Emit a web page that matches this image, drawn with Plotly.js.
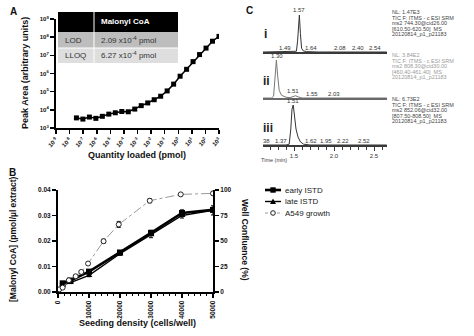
<!DOCTYPE html>
<html><head><meta charset="utf-8">
<script src="https://cdn.plot.ly/plotly-3.0.1.min.js"></script>
<style>html,body{margin:0;padding:0;background:#fff}#g{width:474px;height:336px}</style>
</head><body><div id="g"></div>
<script>
// ---- Panel A: calibration curve ----
const aQuantity = [3.19e-8, 9.56e-8, 2.87e-7, 8.6e-7, 2.58e-6, 7.74e-6, 2.32e-5, 6.97e-5, 2.09e-4, 6.27e-4, 1.88e-3, 5.65e-3, 0.0169, 0.0508, 0.152, 0.457, 1.37, 4.12, 12.3, 37.0, 111, 333, 1000];
const aPeakArea = [3.6e3, 3.1e3, 4.0e3, 3.4e3, 4.4e3, 5.8e3, 6.9e3, 8.1e3, 7.8e3, 1.1e4, 1.7e4, 2.4e4, 3.6e4, 5.6e4, 1.1e5, 2.6e5, 7.1e5, 1.7e6, 4.5e6, 1.1e7, 2.5e7, 6.0e7, 1.1e8];
const aXExp = [-9,-8,-7,-6,-5,-4,-3,-2,-1,0,1,2,3];
const aYExp = [3,4,5,6,7,8,9];
const tableHeader = "Malonyl CoA";
const tableRows = [["LOD", "2.09 x10<sup>-4</sup> pmol"], ["LLOQ", "6.27 x10<sup>-4</sup> pmol"]];

// ---- Panel B: seeding density ----
const bDensityIstd = [1500, 4000, 10000, 20000, 30000, 40000, 50000];
const earlyIstd = [0.0034, 0.0045, 0.0080, 0.0155, 0.0232, 0.0310, 0.0322];
const earlyErr  = [0.0004, 0.0004, 0.0005, 0.0005, 0.0010, 0.0012, 0.0008];
const lateIstd  = [0.0027, 0.0037, 0.0065, 0.0150, 0.0225, 0.0300, 0.0320];
const lateErr   = [0.0003, 0.0004, 0.0005, 0.0006, 0.0012, 0.0010, 0.0018];
const bDensityGrowth = [400, 1500, 3500, 5700, 7500, 9700, 14700, 19600, 29600, 39600, 50000];
const growth    = [2.6, 4.3, 11.5, 15.4, 19.7, 27.9, 49.8, 66.2, 89.5, 95.7, 96.7];
const growthErr = [0, 0, 0, 0, 0, 0, 2.0, 3.0, 2.0, 0, 1.5];
const bXTicks = [0, 10000, 20000, 30000, 40000, 50000];
const bSeriesNames = ["early ISTD", "late ISTD", "A549 growth"];

// ---- Panel C: chromatograms (relative abundance) ----
const tI   = [1.11, 1.40, 1.50, 1.53, 1.545, 1.557, 1.567, 1.58, 1.595, 1.615, 1.66, 1.80, 2.08, 2.40, 2.66];
const absI = [0, 0, 0.005, 0.02, 0.3, 0.8, 1.0, 0.5, 0.1, 0.03, 0.01, 0, 0, 0, 0];
const tII   = [1.11, 1.22, 1.245, 1.265, 1.28, 1.295, 1.315, 1.345, 1.40, 1.45, 1.49, 1.52, 1.55, 1.60, 2.03, 2.66];
const absII = [0, 0, 0.05, 0.6, 1.0, 0.6, 0.2, 0.07, 0.02, 0.01, 0.03, 0.06, 0.03, 0, 0, 0];
const tIII   = [1.11, 1.40, 1.44, 1.46, 1.475, 1.49, 1.505, 1.525, 1.55, 1.58, 1.62, 1.70, 2.66];
const absIII = [0, 0, 0.02, 0.4, 0.9, 1.0, 0.75, 0.4, 0.2, 0.08, 0.02, 0, 0];
const cTimeTicks = [1.5, 2.0, 2.5];
const infoI   = ["NL: 1.47E3", "TIC F: ITMS - c ESI SRM", "ms2 744.30@cid26.00", "[610.50-620.50]  MS", "20120814_p1_p21183"];
const infoII  = ["NL: 3.84E2", "TIC F: ITMS - c ESI SRM", "ms2 808.30@cid30.00", "[460.40-461.40]  MS", "20120814_p1_p21183"];
const infoIII = ["NL: 6.73E2", "TIC F: ITMS - c ESI SRM", "ms2 852.06@cid32.00", "[807.50-808.50]  MS", "20120814_p1_p21183"];

const W = 474, H = 336;
const FF = "Liberation Sans, Arial, sans-serif";
const px = v => v / W, py = v => 1 - v / H;
function ann(text, x, y, o) {
  o = o || {};
  return {xref:'paper', yref:'paper', x:px(x), y:py(y), text:text, showarrow:false,
    xanchor:o.xa||'center', yanchor:o.ya||'middle', textangle:o.ang||0,
    font:{family:FF, size:o.size||7, color:o.color||'#111', weight:o.bold?'bold':'normal'}};
}

const data = [
  {x:aQuantity, y:aPeakArea, xaxis:'x', yaxis:'y', mode:'lines+markers', name:'Malonyl CoA',
   line:{color:'#000', width:1.5}, marker:{symbol:'square', size:5, color:'#000'}},
  {x:bDensityIstd, y:earlyIstd, xaxis:'x2', yaxis:'y2', name:bSeriesNames[0], mode:'lines+markers',
   line:{color:'#000', width:2.6}, marker:{symbol:'square', size:6, color:'#000'},
   error_y:{type:'data', array:earlyErr, color:'#000', thickness:1, width:2}},
  {x:bDensityIstd, y:lateIstd, xaxis:'x2', yaxis:'y2', name:bSeriesNames[1], mode:'lines+markers',
   line:{color:'#000', width:1.4}, marker:{symbol:'triangle-up', size:6, color:'#000'},
   error_y:{type:'data', array:lateErr, color:'#000', thickness:1, width:2}},
  {x:bDensityGrowth, y:growth, xaxis:'x2', yaxis:'y3', name:bSeriesNames[2], mode:'lines+markers',
   line:{color:'#9a9a9a', width:1, dash:'dashdot'},
   marker:{symbol:'circle', size:5, color:'#fff', line:{width:1, color:'#222'}},
   error_y:{type:'data', array:growthErr, color:'#222', thickness:1, width:2}},
  {x:tI, y:absI, xaxis:'x3', yaxis:'y4', mode:'lines', name:'i', line:{color:'#333', width:1}},
  {x:tII, y:absII, xaxis:'x4', yaxis:'y5', mode:'lines', name:'ii', line:{color:'#777', width:1}},
  {x:tIII, y:absIII, xaxis:'x5', yaxis:'y6', mode:'lines', name:'iii', line:{color:'#333', width:1}}
];

const tickF = {family:FF, size:6.5, color:'#111', weight:'bold'};
const baseAx = {showgrid:false, zeroline:false, showline:true, linecolor:'#000', linewidth:2,
  ticks:'outside', ticklen:4, tickwidth:1.5, tickcolor:'#000', tickfont:tickF, fixedrange:true};

const cDom = [px(263), px(387)];
const cRange = [1.1125, 2.6625];
const hidY = {showgrid:false, zeroline:false, showline:false, showticklabels:false, ticks:'', fixedrange:true};

const layout = {
  width:W, height:H, margin:{l:0, r:0, t:0, b:0}, paper_bgcolor:'#fff', plot_bgcolor:'rgba(0,0,0,0)',
  font:{family:FF}, showlegend:false,
  xaxis:Object.assign({}, baseAx, {domain:[px(56), px(219)], type:'log', range:[-9, 3], anchor:'y',
    tickmode:'array', tickvals:aXExp.map(e => Math.pow(10, e)), ticktext:aXExp.map(e => '10<sup>' + e + '</sup>'),
    tickangle:-45, tickfont:{family:FF, size:6, color:'#111', weight:'bold'}}),
  yaxis:Object.assign({}, baseAx, {domain:[py(128), py(19)], type:'log', range:[3, 9], anchor:'x',
    tickmode:'array', tickvals:aYExp.map(e => Math.pow(10, e)), ticktext:aYExp.map(e => '10<sup>' + e + '</sup>'),
    tickfont:{family:FF, size:6, color:'#111', weight:'bold'}}),
  xaxis2:Object.assign({}, baseAx, {domain:[px(58), px(213)], range:[0, 50000], anchor:'y2',
    tickmode:'array', tickvals:bXTicks, ticktext:bXTicks.map(String), tickangle:-90,
    minor:{dtick:2000, ticks:'outside', ticklen:2, tickwidth:1, tickcolor:'#000'}}),
  yaxis2:Object.assign({}, baseAx, {domain:[py(292), py(190)], range:[0, 0.04], anchor:'x2',
    dtick:0.01, tickformat:'.2f'}),
  yaxis3:Object.assign({}, baseAx, {overlaying:'y2', side:'right', anchor:'x2', range:[0, 100], dtick:25,
    showline:true}),
  xaxis3:{domain:cDom, range:cRange, anchor:'y4', showgrid:false, zeroline:false, showline:true,
    linecolor:'#3a3a3a', linewidth:2, ticks:'', showticklabels:false, fixedrange:true},
  yaxis4:Object.assign({}, hidY, {domain:[py(52), py(12)], range:[0, 40/37], anchor:'x3'}),
  xaxis4:{domain:cDom, range:cRange, anchor:'y5', showgrid:false, zeroline:false, showline:true,
    linecolor:'#6a6a6a', linewidth:2, ticks:'', showticklabels:false, fixedrange:true},
  yaxis5:Object.assign({}, hidY, {domain:[py(98), py(58)], range:[0, 40/38], anchor:'x4'}),
  xaxis5:{domain:cDom, range:cRange, anchor:'y6', showgrid:false, zeroline:false, showline:true,
    linecolor:'#3a3a3a', linewidth:2, ticks:'outside', ticklen:4, tickwidth:1, tickcolor:'#3a3a3a',
    tickmode:'array', tickvals:cTimeTicks, ticktext:cTimeTicks.map(v => v.toFixed(1)),
    tickfont:{family:FF, size:6, color:'#333'},
    minor:{dtick:0.1, ticks:'outside', ticklen:2.5, tickwidth:1, tickcolor:'#3a3a3a'}, fixedrange:true},
  yaxis6:Object.assign({}, hidY, {domain:[py(145), py(103)], range:[0, 42/40], anchor:'x5'}),
  shapes:[
    {type:'rect', xref:'paper', yref:'paper', x0:px(58), x1:px(178), y0:py(32), y1:py(12), fillcolor:'#000', line:{width:0}},
    {type:'rect', xref:'paper', yref:'paper', x0:px(58), x1:px(178), y0:py(48), y1:py(32), fillcolor:'#bdbdbd', line:{width:0}},
    {type:'rect', xref:'paper', yref:'paper', x0:px(58), x1:px(178), y0:py(63), y1:py(48), fillcolor:'#dedede', line:{width:0}},
    {type:'line', xref:'paper', yref:'paper', x0:px(94), x1:px(94), y0:py(63), y1:py(12), line:{color:'#fff', width:1}},
    {type:'line', xref:'paper', yref:'paper', x0:px(58), x1:px(178), y0:py(48), y1:py(48), line:{color:'#fff', width:1}}
  ],
  annotations:[]
};

// Hand-drawn legend for panel B (paper coordinates)
const S = layout.shapes;
const legY = [190, 201.5, 213];
const lx0 = 265, lx1 = 281, lxm = 273;
S.push({type:'line', xref:'paper', yref:'paper', x0:px(lx0), x1:px(lx1), y0:py(legY[0]), y1:py(legY[0]), line:{color:'#000', width:2.6}});
S.push({type:'rect', xref:'paper', yref:'paper', x0:px(lxm-2.7), x1:px(lxm+2.7), y0:py(legY[0]+2.7), y1:py(legY[0]-2.7), fillcolor:'#000', line:{width:0}});
S.push({type:'line', xref:'paper', yref:'paper', x0:px(lx0), x1:px(lx1), y0:py(legY[1]), y1:py(legY[1]), line:{color:'#000', width:1.4}});
S.push({type:'path', xref:'paper', yref:'paper', fillcolor:'#000', line:{width:0},
  path:'M ' + px(lxm-3) + ' ' + py(legY[1]+2.5) + ' L ' + px(lxm+3) + ' ' + py(legY[1]+2.5) + ' L ' + px(lxm) + ' ' + py(legY[1]-3) + ' Z'});
S.push({type:'line', xref:'paper', yref:'paper', x0:px(lx0), x1:px(lx1), y0:py(legY[2]), y1:py(legY[2]), line:{color:'#9a9a9a', width:1, dash:'dot'}});
S.push({type:'circle', xref:'paper', yref:'paper', x0:px(lxm-2.3), x1:px(lxm+2.3), y0:py(legY[2]+2.3), y1:py(legY[2]-2.3), fillcolor:'#fff', line:{color:'#222', width:1}});

const A = layout.annotations;
bSeriesNames.forEach((n, i) => A.push(ann(n, 283, legY[i], {size:8, color:'#222', xa:'left'})));
// Panel letters
A.push(ann('A', 13, 12, {size:10, bold:true}));
A.push(ann('B', 12, 173, {size:10, bold:true}));
A.push(ann('C', 249, 10, {size:10, bold:true}));
// Axis titles
A.push(ann('Peak Area (arbitrary units)', 25, 73, {size:9, bold:true, ang:-90}));
A.push(ann('Quantity loaded (pmol)', 137, 155, {size:9, bold:true}));
A.push(ann('[Malonyl CoA] (pmol/\u00b5l extract)', 13, 240, {size:8.5, bold:true, ang:-90}));
A.push(ann('Seeding density (cells/well)', 137, 323, {size:9, bold:true}));
A.push(ann('Well Confluence (%)', 245, 240, {size:8.5, bold:true, ang:90}));
// Table text
A.push(ann(tableHeader, 99, 22, {size:8, bold:true, color:'#fff', xa:'left'}));
tableRows.forEach((r, i) => {
  A.push(ann(r[0], 63, 40 + i*15.5, {size:8, color:'#333', xa:'left'}));
  A.push(ann(r[1], 99, 40 + i*15.5, {size:8, color:'#333', xa:'left'}));
});
// Chromatogram labels
A.push(ann('i', 265, 34, {size:12, bold:true, color:'#222'}));
A.push(ann('ii', 266, 81, {size:12, bold:true, color:'#222'}));
A.push(ann('iii', 268, 128, {size:12, bold:true, color:'#222'}));
const pk = (t, x, y, c) => A.push(ann(t, x, y, {size:6, color:c||'#333'}));
pk('1.57', 299, 10); pk('1.49', 285, 48); pk('1.64', 311, 48); pk('2.08', 340, 48); pk('2.40', 358, 48); pk('2.54', 375, 48);
pk('1.30', 277, 56); pk('1.51', 293, 91); pk('1.55', 312, 94); pk('2.03', 334, 94);
pk('1.51', 293, 101); pk('38', 266, 141); pk('1.37', 281, 141); pk('1.62', 311, 141); pk('1.95', 326, 141); pk('2.22', 343, 141); pk('2.52', 364, 141);
A.push(ann('Time (min)', 274, 160, {size:5.5, color:'#444'}));
const info = (lines, y0, c) => lines.forEach((l, i) => A.push(ann(l, 390, y0 + i*5.6, {size:5.5, color:c, xa:'left'})));
info(infoI, 12, '#444');
info(infoII, 55, '#9a9a9a');
info(infoIII, 99, '#444');

Plotly.newPlot('g', data, layout, {staticPlot:true, displayModeBar:false});
</script></body></html>
